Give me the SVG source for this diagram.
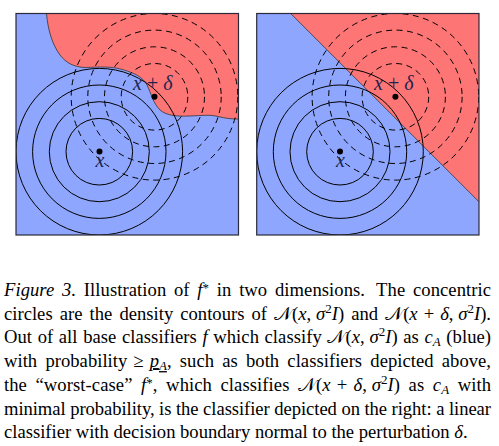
<svg xmlns="http://www.w3.org/2000/svg" width="499" height="446" viewBox="0 0 499 446">
<style>
.blue{fill:#8fa6fe}
.red{fill:#fe7575}
.frame{fill:none;stroke:#2a2a3a;stroke-width:1.2}
.edge{fill:none;stroke:#333;stroke-width:0.8}
.solid{fill:none;stroke:#000;stroke-width:1}
.dash{fill:none;stroke:#000;stroke-width:1;stroke-dasharray:6 4.5}
.dot{fill:#000}
.lbl{font-family:"Liberation Serif",serif;font-size:20px;fill:#1c2450}
.cap{font-family:"Liberation Serif",serif;font-size:18.6px;fill:#000}
.it{font-style:italic}
.cal{font-family:"DejaVu Serif","DejaVu Sans",serif;font-style:normal}
.sp{word-spacing:0;font-size:24px}
.cs{word-spacing:0;font-size:19px}
.pg{word-spacing:0;font-size:44px}
</style>
<defs>
<clipPath id="clipL"><rect x="16" y="13.5" width="222.5" height="221.5"/></clipPath>
<clipPath id="clipR"><rect x="256.7" y="13.5" width="222.3" height="221.5"/></clipPath>
</defs>

<g id="left-panel">
<rect class="blue" x="16" y="13.5" width="222.5" height="221.5"/>
<path class="red" d="M46.5,13.5 C48,30 52,44 60,55 C66,63 74,67 85,67.5 C100,67 112,66 124,70 C134,73 143,77 147,85 C151,93 153,103 160,110 C167,116 178,116.5 190,116 C202,115.5 210,114.5 218,116.5 C226,118.5 232,119 238.5,119 L238.5,13.5 Z"/>
<path class="edge" d="M46.5,13.5 C48,30 52,44 60,55 C66,63 74,67 85,67.5 C100,67 112,66 124,70 C134,73 143,77 147,85 C151,93 153,103 160,110 C167,116 178,116.5 190,116 C202,115.5 210,114.5 218,116.5 C226,118.5 232,119 238.5,119"/>
<g clip-path="url(#clipL)">
<circle class="solid" cx="99.3" cy="151.7" r="33.3"/>
<circle class="solid" cx="99.3" cy="151.7" r="50"/>
<circle class="solid" cx="99.3" cy="151.7" r="66.7"/>
<circle class="solid" cx="99.3" cy="151.7" r="83.3"/>
<circle class="dash" cx="154.5" cy="96.8" r="33.3"/>
<circle class="dash" cx="154.5" cy="96.8" r="50"/>
<circle class="dash" cx="154.5" cy="96.8" r="66.7"/>
<circle class="dash" cx="154.5" cy="96.8" r="83.3"/>
</g>
<rect class="frame" x="16" y="13.5" width="222.5" height="221.5"/>
<circle class="dot" cx="99.5" cy="151.5" r="3"/>
<circle class="dot" cx="154.5" cy="96.8" r="3"/>
<text class="lbl it" x="100" y="167" text-anchor="middle">x</text>
<text class="lbl" x="133" y="89.5"><tspan class="it">x</tspan> + <tspan class="it">δ</tspan></text>
</g>

<g id="right-panel">
<rect class="blue" x="256.7" y="13.5" width="222.3" height="221.5"/>
<polygon class="red" points="290.7,13.5 479,13.5 479,201.8"/>
<line class="edge" x1="290.7" y1="13.5" x2="479" y2="201.8"/>
<g clip-path="url(#clipR)">
<circle class="solid" cx="340" cy="151.7" r="33.3"/>
<circle class="solid" cx="340" cy="151.7" r="50"/>
<circle class="solid" cx="340" cy="151.7" r="66.7"/>
<circle class="solid" cx="340" cy="151.7" r="83.3"/>
<circle class="dash" cx="395.4" cy="96.8" r="33.3"/>
<circle class="dash" cx="395.4" cy="96.8" r="50"/>
<circle class="dash" cx="395.4" cy="96.8" r="66.7"/>
<circle class="dash" cx="395.4" cy="96.8" r="83.3"/>
</g>
<rect class="frame" x="256.7" y="13.5" width="222.3" height="221.5"/>
<circle class="dot" cx="340" cy="151.5" r="3"/>
<circle class="dot" cx="395.4" cy="96.8" r="3"/>
<text class="lbl it" x="340.5" y="167" text-anchor="middle">x</text>
<text class="lbl" x="374" y="89.5"><tspan class="it">x</tspan> + <tspan class="it">δ</tspan></text>
</g>

<g id="caption">
<text class="cap" x="4" y="296" word-spacing="3" textLength="487" lengthAdjust="spacing"><tspan class="it">Figure 3.</tspan> Illustration of <tspan class="it">f</tspan><tspan font-size="13" dy="-4">*</tspan><tspan dy="4"> in two dimensions.</tspan><tspan class="pg"> </tspan>The concentric</text>
<text class="cap" x="4" y="319.7" word-spacing="2.4" textLength="487" lengthAdjust="spacing">circles are the density contours of <tspan class="cal">𝒩</tspan>(<tspan class="it">x</tspan>,<tspan class="cs"> </tspan><tspan class="it">σ</tspan><tspan font-size="13" dy="-7">2</tspan><tspan class="it" dy="7">I</tspan>) and <tspan class="cal">𝒩</tspan>(<tspan class="it">x</tspan><tspan class="sp"> </tspan>+<tspan class="sp"> </tspan><tspan class="it">δ</tspan>,<tspan class="cs"> </tspan><tspan class="it">σ</tspan><tspan font-size="13" dy="-7">2</tspan><tspan class="it" dy="7">I</tspan>).</text>
<text class="cap" x="4" y="343.4" word-spacing="0.9" textLength="487" lengthAdjust="spacing">Out of all base classifiers <tspan class="it">f</tspan> which classify <tspan class="cal">𝒩</tspan>(<tspan class="it">x</tspan>,<tspan class="cs"> </tspan><tspan class="it">σ</tspan><tspan font-size="13" dy="-7">2</tspan><tspan class="it" dy="7">I</tspan>) as <tspan class="it">c</tspan><tspan class="it" font-size="13" dy="3">A</tspan><tspan dy="-3"> (blue)</tspan></text>
<text class="cap" x="4" y="367.1" word-spacing="3.5" textLength="487" lengthAdjust="spacing">with probability<tspan class="sp"> </tspan>≥<tspan class="sp"> </tspan><tspan class="it" text-decoration="underline">p<tspan font-size="13" dy="3">A</tspan></tspan><tspan dy="-3">, such as both classifiers depicted above,</tspan></text>
<text class="cap" x="4" y="390.8" word-spacing="3.8" textLength="487" lengthAdjust="spacing">the “worst-case” <tspan class="it">f</tspan><tspan font-size="13" dy="-4">*</tspan><tspan dy="4">, which classifies </tspan><tspan class="cal">𝒩</tspan>(<tspan class="it">x</tspan><tspan class="sp"> </tspan>+<tspan class="sp"> </tspan><tspan class="it">δ</tspan>,<tspan class="cs"> </tspan><tspan class="it">σ</tspan><tspan font-size="13" dy="-7">2</tspan><tspan class="it" dy="7">I</tspan>) as <tspan class="it">c</tspan><tspan class="it" font-size="13" dy="3">A</tspan><tspan dy="-3"> with</tspan></text>
<text class="cap" x="4" y="414.5" word-spacing="0" textLength="487" lengthAdjust="spacing">minimal probability, is the classifier depicted on the right: a linear</text>
<text class="cap" x="4" y="438.2">classifier with decision boundary normal to the perturbation <tspan class="it">δ</tspan>.</text>
</g>
</svg>
